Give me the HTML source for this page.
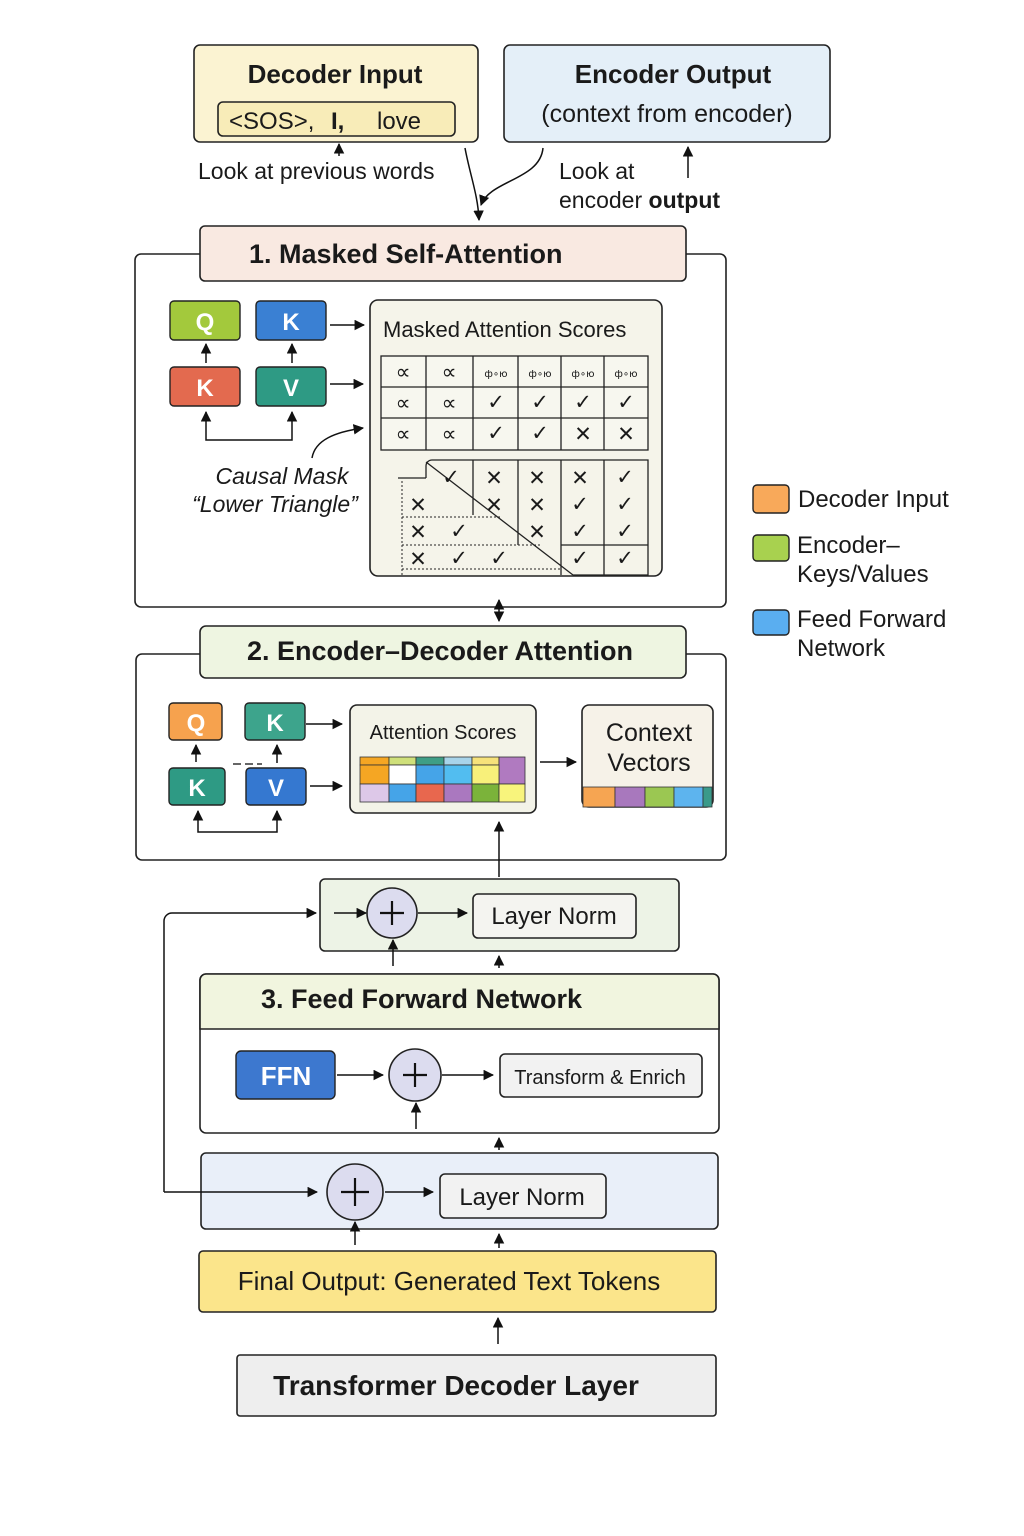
<!DOCTYPE html>
<html><head><meta charset="utf-8"><style>
html,body{margin:0;padding:0;background:#fff}
svg{display:block}
text{font-family:"Liberation Sans","DejaVu Sans",sans-serif;fill:#1a1a1a}
.s{font-family:"DejaVu Sans",sans-serif}
</style></head><body>
<svg width="1024" height="1536" viewBox="0 0 1024 1536" xmlns="http://www.w3.org/2000/svg">
<defs>
<marker id="a" viewBox="0 0 10 10" refX="9" refY="5" markerWidth="7" markerHeight="7" orient="auto-start-reverse"><path d="M0,0L10,5L0,10z" fill="#111"/></marker>
</defs>
<g stroke="#222" stroke-width="1.6" fill="none">
<rect x="194" y="45" width="284" height="97" rx="6" fill="#fbf3d2"/>
<rect x="218" y="102" width="237" height="34" rx="5" fill="#f8ecb8"/>
<rect x="504" y="45" width="326" height="97" rx="6" fill="#e4eff8"/>
<rect x="135" y="254" width="591" height="353" rx="6" fill="#fff"/>
<rect x="200" y="226" width="486" height="55" rx="5" fill="#f9e9e1"/>
<rect x="370" y="300" width="292" height="276" rx="8" fill="#f5f4ea"/>
<rect x="136" y="654" width="590" height="206" rx="6" fill="#fff"/>
<rect x="200" y="626" width="486" height="52" rx="6" fill="#eef5e1"/>
<rect x="350" y="705" width="186" height="108" rx="7" fill="#f3f3e8"/>
<rect x="582" y="705" width="131" height="102" rx="7" fill="#f6f2e8"/>
<rect x="320" y="879" width="359" height="72" rx="5" fill="#edf3e6"/>
<rect x="473" y="894" width="163" height="44" rx="5" fill="#f4f4f0"/>
<rect x="200" y="974" width="519" height="159" rx="6" fill="#fff"/>
<path d="M200,1029H719V980a6,6 0 0 0 -6,-6H206a6,6 0 0 0 -6,6z" fill="#f1f5df"/>
<rect x="500" y="1054" width="202" height="43" rx="5" fill="#f2f2f2"/>
<rect x="201" y="1153" width="517" height="76" rx="5" fill="#e9eff9"/>
<rect x="440" y="1174" width="166" height="44" rx="5" fill="#f2f2f2"/>
<rect x="199" y="1251" width="517" height="61" rx="4" fill="#fbe58b"/>
<rect x="237" y="1355" width="479" height="61" rx="3" fill="#eeeeee"/>
</g>
<g stroke="#222" stroke-width="1.4">
<rect x="170" y="301" width="70" height="39" rx="4" fill="#a3c93c"/>
<rect x="256" y="301" width="70" height="39" rx="4" fill="#3a80d3"/>
<rect x="170" y="367" width="70" height="39" rx="4" fill="#e36a4f"/>
<rect x="256" y="367" width="70" height="39" rx="4" fill="#2e9a84"/>
<rect x="169" y="703" width="53" height="37" rx="4" fill="#f6a24e"/>
<rect x="245" y="703" width="60" height="37" rx="4" fill="#3da48c"/>
<rect x="169" y="768" width="56" height="37" rx="4" fill="#2e9a84"/>
<rect x="246" y="768" width="60" height="37" rx="4" fill="#3578d0"/>
<rect x="236" y="1051" width="99" height="48" rx="5" fill="#3d78cf"/>
</g>
<g font-weight="bold" font-size="24" text-anchor="middle">
<text x="205" y="330" style="fill:#fff">Q</text><text x="291" y="330" style="fill:#fff">K</text>
<text x="205" y="396" style="fill:#fff">K</text><text x="291" y="396" style="fill:#fff">V</text>
<text x="196" y="731" style="fill:#fff">Q</text><text x="275" y="731" style="fill:#fff">K</text>
<text x="197" y="796" style="fill:#fff">K</text><text x="276" y="796" style="fill:#fff">V</text>
<text x="286" y="1085" font-size="26" style="fill:#fff">FFN</text>
</g>
<g stroke="#222" stroke-width="1.3" fill="none">
<rect x="381" y="356" width="267" height="94" fill="#f7f7ef"/>
<path d="M381,387H648M381,418H648M426,356V450M473,356V450M518,356V450M561,356V450M604,356V450"/>
<path d="M402,575V480M402,517H500M402,545H540" stroke-dasharray="2,2" stroke-width="1"/>
<path d="M402,569H560" stroke-dasharray="2,2" stroke-width="1"/>
<path d="M426,478V466a6,6 0 0 1 6,-6H648V575H573M473,460V515M518,460V545M561,460V575M604,460V575M561,545H648M398,478H426M426,462L573,575" />
</g>
<g class="s" font-size="21" text-anchor="middle">
<text x="403" y="379" class="s">∝</text><text x="449" y="379" class="s">∝</text>
<text x="496" y="377" class="s" font-size="10">ф∘ю</text><text x="540" y="377" class="s" font-size="10">ф∘ю</text><text x="583" y="377" class="s" font-size="10">ф∘ю</text><text x="626" y="377" class="s" font-size="10">ф∘ю</text>
<text x="403" y="410" class="s">∝</text><text x="449" y="410" class="s">∝</text>
<text x="496" y="409" class="s" font-weight="bold">✓</text><text x="540" y="409" class="s" font-weight="bold">✓</text><text x="583" y="409" class="s" font-weight="bold">✓</text><text x="626" y="409" class="s" font-weight="bold">✓</text>
<text x="403" y="441" class="s">∝</text><text x="449" y="441" class="s">∝</text>
<text x="496" y="440" class="s" font-weight="bold">✓</text><text x="540" y="440" class="s" font-weight="bold">✓</text><text x="583" y="441" class="s">✕</text><text x="626" y="441" class="s">✕</text>
<text x="451" y="484" class="s" font-weight="bold">✓</text><text x="494" y="485" class="s">✕</text><text x="537" y="485" class="s">✕</text><text x="580" y="485" class="s">✕</text><text x="625" y="484" class="s" font-weight="bold">✓</text>
<text x="418" y="512" class="s" font-weight="bold">✕</text><text x="494" y="512" class="s">✕</text><text x="537" y="512" class="s">✕</text><text x="580" y="511" class="s" font-weight="bold">✓</text><text x="625" y="511" class="s" font-weight="bold">✓</text>
<text x="418" y="539" class="s" font-weight="bold">✕</text><text x="459" y="538" class="s" font-weight="bold">✓</text><text x="537" y="539" class="s">✕</text><text x="580" y="538" class="s" font-weight="bold">✓</text><text x="625" y="538" class="s" font-weight="bold">✓</text>
<text x="418" y="566" class="s" font-weight="bold">✕</text><text x="459" y="565" class="s" font-weight="bold">✓</text><text x="499" y="565" class="s" font-weight="bold">✓</text><text x="580" y="565" class="s" font-weight="bold">✓</text><text x="625" y="565" class="s" font-weight="bold">✓</text>
</g>
<g stroke="#333" stroke-width="0.8">
<rect x="360" y="757" width="29" height="8" fill="#f5a623"/><rect x="389" y="757" width="27" height="8" fill="#cfe07a"/><rect x="416" y="757" width="28" height="8" fill="#3e9e86"/><rect x="444" y="757" width="28" height="8" fill="#a8d4ea"/><rect x="472" y="757" width="27" height="8" fill="#f6e27a"/><rect x="499" y="757" width="26" height="27" fill="#b07ac0"/>
<rect x="360" y="765" width="29" height="19" fill="#f5a623"/><rect x="389" y="765" width="27" height="19" fill="#fff"/><rect x="416" y="765" width="28" height="19" fill="#45a4e8"/><rect x="444" y="765" width="28" height="19" fill="#52bdf0"/><rect x="472" y="765" width="27" height="19" fill="#f8f07a"/>
<rect x="360" y="784" width="29" height="18" fill="#ddc8e8"/><rect x="389" y="784" width="27" height="18" fill="#45a4e8"/><rect x="416" y="784" width="28" height="18" fill="#e8674e"/><rect x="444" y="784" width="28" height="18" fill="#aa78bf"/><rect x="472" y="784" width="27" height="18" fill="#7bb33a"/><rect x="499" y="784" width="26" height="18" fill="#f8f47c"/>
<rect x="583" y="787" width="32" height="20" fill="#f6a552"/><rect x="615" y="787" width="30" height="20" fill="#a878bd"/><rect x="645" y="787" width="29" height="20" fill="#9bc752"/><rect x="674" y="787" width="29" height="20" fill="#5db4ee"/><rect x="703" y="787" width="9" height="20" fill="#3a9a8a"/>
</g>
<g stroke="#222" stroke-width="1.6" fill="#dcdcef">
<circle cx="392" cy="913" r="25"/><circle cx="415" cy="1075" r="26"/><circle cx="355" cy="1192" r="28"/>
</g>
<g stroke="#111" stroke-width="2.2"><path d="M380,913H404M392,901V925M403,1075H427M415,1063V1087M341,1192H369M355,1178V1206"/></g>
<g stroke="#111" stroke-width="1.5" fill="none" marker-end="url(#a)">
<path d="M339,156V144"/><path d="M688,178V147"/>
<path d="M465,148C470,175 478,195 479,220"/>
<path d="M543,148C540,180 490,180 481,205"/>
<path d="M206,363V344"/><path d="M292,363V344"/>
<path d="M206,412V440H292V412" marker-start="url(#a)"/>
<path d="M330,325H364"/><path d="M330,384H363"/>
<path d="M312,458C315,440 335,432 363,428"/>
<path d="M499,600V621" marker-start="url(#a)"/>
<path d="M196,762V745"/><path d="M277,763V745"/>
<path d="M198,811V832H277V811" marker-start="url(#a)"/>
<path d="M306,724H342"/><path d="M310,786H342"/>
<path d="M540,762H576"/>
<path d="M499,877V822"/>
<path d="M334,913H366"/><path d="M418,913H467"/>
<path d="M164,1192V921a8,8 0 0 1 8,-8H316"/>
<path d="M393,966V940"/><path d="M499,968V956"/>
<path d="M337,1075H383"/><path d="M442,1075H493"/><path d="M416,1129V1103"/>
<path d="M499,1150V1138"/>
<path d="M164,1192H317"/><path d="M385,1192H433"/>
<path d="M355,1245V1222"/><path d="M499,1248V1234"/>
<path d="M498,1344V1318"/>
</g>
<path d="M233,764H262" stroke="#333" stroke-width="1.5" stroke-dasharray="8,4"/>
<g stroke="#222" stroke-width="1.4">
<rect x="753" y="485" width="36" height="28" rx="4" fill="#f8a95a"/>
<rect x="753" y="535" width="36" height="26" rx="4" fill="#a8d14f"/>
<rect x="753" y="610" width="36" height="25" rx="4" fill="#5aaef0"/>
</g>
<g font-size="24">
<text x="335" y="83" text-anchor="middle" font-size="26" font-weight="bold">Decoder Input</text>
<text x="229" y="129" font-size="24">&lt;SOS&gt;,</text><text x="331" y="129" font-size="24" font-weight="bold">I,</text><text x="377" y="129" font-size="24">love</text>
<text x="673" y="83" text-anchor="middle" font-size="26" font-weight="bold">Encoder Output</text>
<text x="667" y="122" text-anchor="middle" font-size="25">(context from encoder)</text>
<text x="198" y="179" font-size="23">Look at previous words</text>
<text x="559" y="179" font-size="23">Look at</text>
<text x="559" y="208" font-size="23">encoder <tspan font-weight="bold">output</tspan></text>
<text x="249" y="263" font-size="27" font-weight="bold">1. Masked Self-Attention</text>
<text x="383" y="337" font-size="22">Masked Attention Scores</text>
<text x="282" y="484" text-anchor="middle" font-size="23" font-style="italic">Causal Mask</text>
<text x="275" y="512" text-anchor="middle" font-size="23" font-style="italic">“Lower Triangle”</text>
<text x="440" y="660" text-anchor="middle" font-size="27" font-weight="bold">2. Encoder–Decoder Attention</text>
<text x="443" y="739" text-anchor="middle" font-size="20">Attention Scores</text>
<text x="649" y="741" text-anchor="middle" font-size="25">Context</text>
<text x="649" y="771" text-anchor="middle" font-size="25">Vectors</text>
<text x="554" y="924" text-anchor="middle" font-size="24">Layer Norm</text>
<text x="261" y="1008" font-size="27" font-weight="bold">3. Feed Forward Network</text>
<text x="600" y="1084" text-anchor="middle" font-size="20">Transform &amp; Enrich</text>
<text x="522" y="1205" text-anchor="middle" font-size="24">Layer Norm</text>
<text x="449" y="1290" text-anchor="middle" font-size="26">Final Output: Generated Text Tokens</text>
<text x="456" y="1395" text-anchor="middle" font-size="28" font-weight="bold">Transformer Decoder Layer</text>
<text x="798" y="507" font-size="24">Decoder Input</text>
<text x="797" y="553" font-size="24">Encoder–</text>
<text x="797" y="582" font-size="24">Keys/Values</text>
<text x="797" y="627" font-size="24">Feed Forward</text>
<text x="797" y="656" font-size="24">Network</text>
</g>
</svg>
</body></html>
